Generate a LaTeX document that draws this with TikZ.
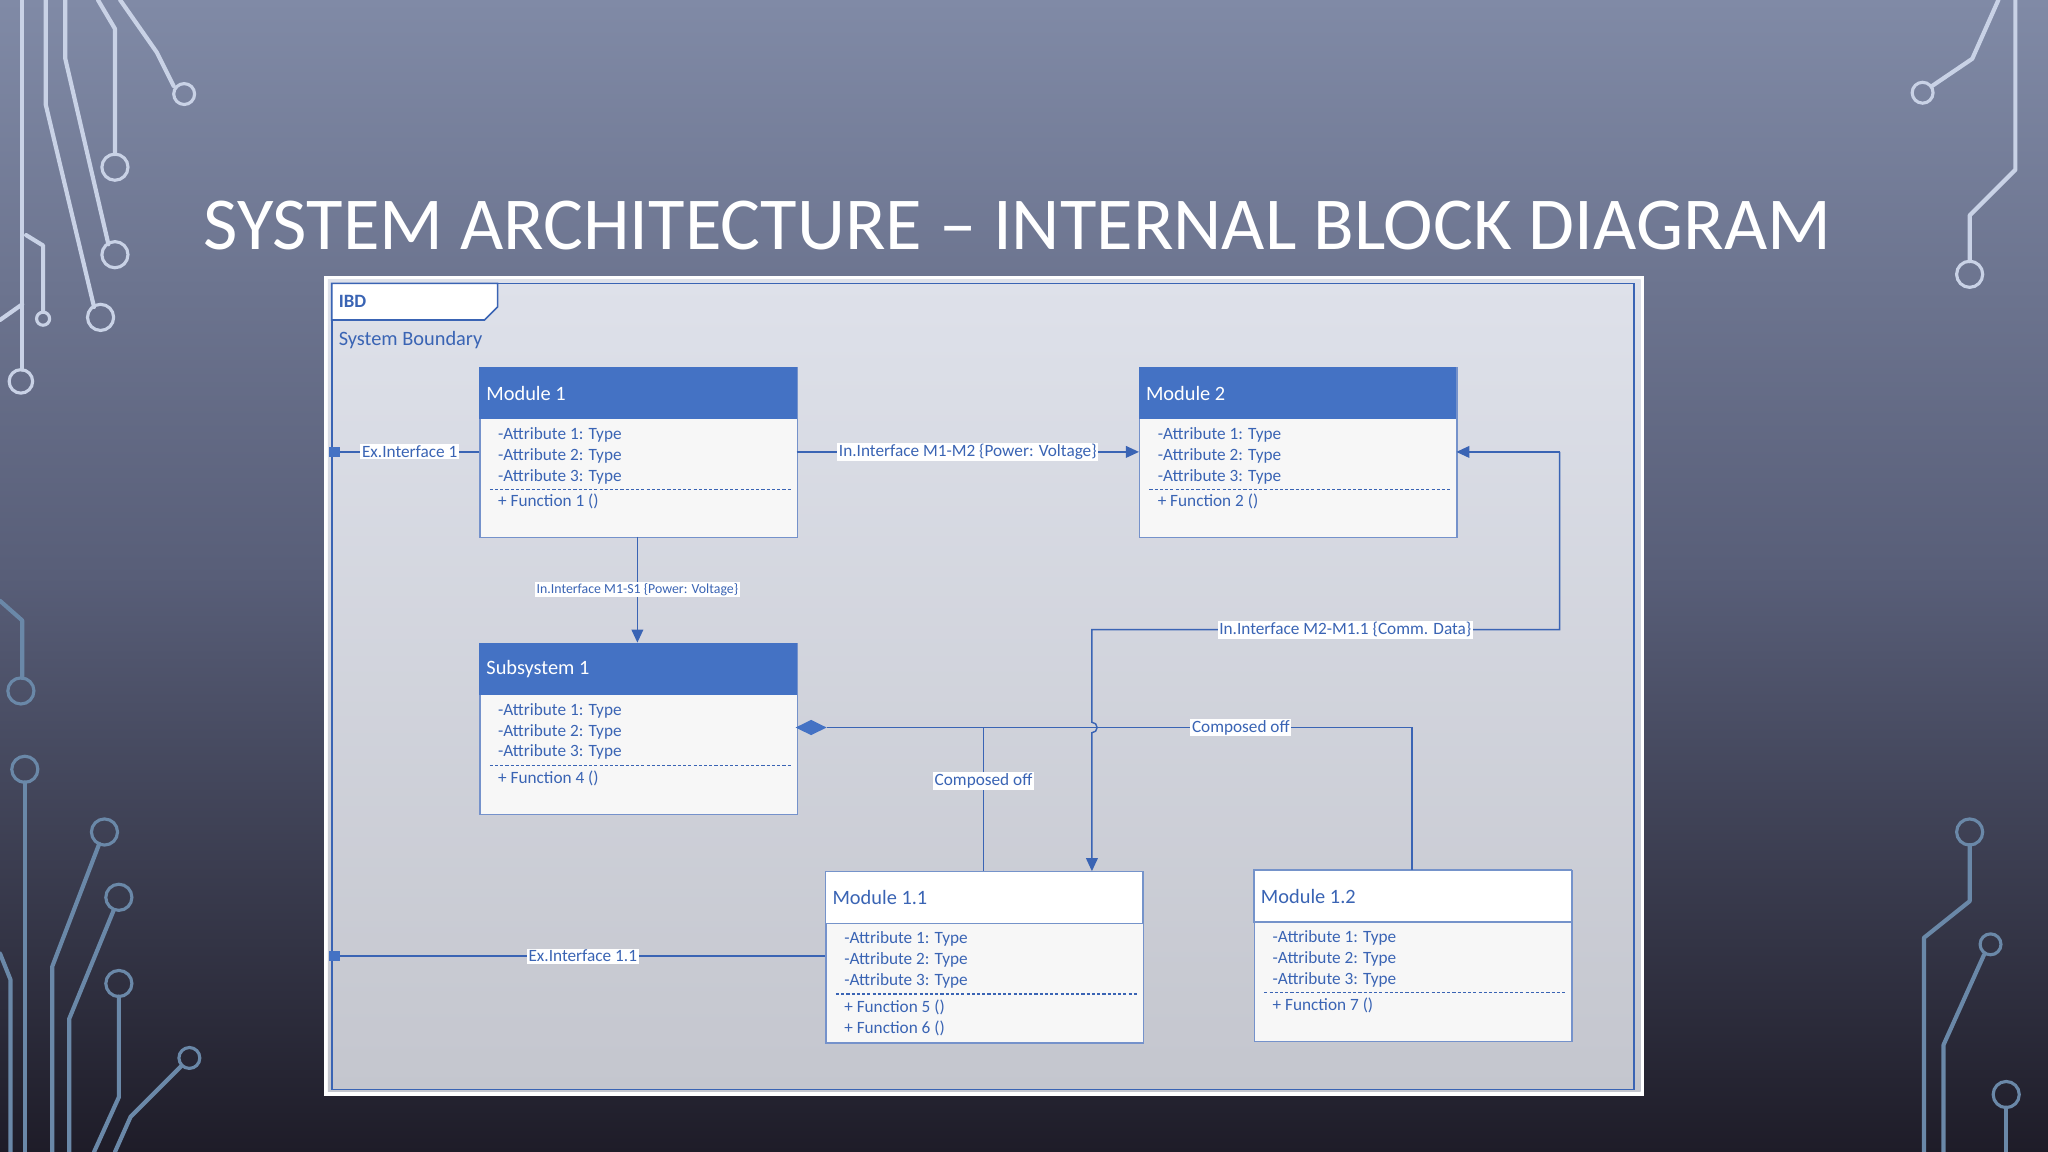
\documentclass[tikz,border=0pt]{standalone}
\usepackage{fontspec}
\setmainfont{Carlito}
\usetikzlibrary{arrows.meta,shapes.geometric}
\definecolor{hdr}{HTML}{4472C4}
\definecolor{bl}{HTML}{3A64B4}
\definecolor{dkA}{HTML}{C9D2E6}
\definecolor{dkB}{HTML}{6A88A8}
\begin{document}
\begin{tikzpicture}[x=0.5pt,y=-0.5pt,
  deco/.style={line width=1.6pt,line cap=round,line join=round},
  ring/.style={line width=1.2pt},
  conn/.style={draw=bl,line width=0.55pt},
  arr/.style={conn,-{Triangle[length=5pt,width=4.5pt]}},
  lab/.style={fill=white,inner sep=0.6pt,font=\fontsize{6.6}{7.5}\selectfont,text=bl},
  slab/.style={lab,font=\fontsize{5.3}{6}\selectfont},
  attr/.style={anchor=west,inner sep=0pt,font=\fontsize{6.6}{7.5}\selectfont,text=bl},
  ttl/.style={anchor=west,inner sep=0pt,font=\fontsize{7.8}{9}\selectfont},
  body/.style={draw=bl!70,fill=gray!6,line width=0.5pt},
  port/.style={fill=hdr,draw=none,minimum size=4pt,inner sep=0pt}]
\useasboundingbox (0,0) rectangle (1568,882);
\shade[top color={rgb,255:red,128;green,138;blue,166},bottom color={rgb,255:red,30;green,28;blue,40},middle color={rgb,255:red,88;green,94;blue,120}] (0,0) rectangle (1568,882);
% decorations left top
\begin{scope}[draw=dkA]
\draw[deco] (17,0) -- (17,283); \draw[ring] (16,292) circle (9);
\draw[deco] (35,0) -- (35,80) -- (72,235); \draw[ring] (77,243) circle (10);
\draw[deco] (50,0) -- (50,45) -- (83,187); \draw[ring] (88,195) circle (10);
\draw[deco] (75,0) -- (88,22) -- (88,118); \draw[ring] (88,128) circle (10);
\draw[deco] (92,0) -- (120,40) -- (133,66); \draw[ring] (141,72) circle (8);
\draw[deco] (20,180) -- (33,188) -- (33,238); \draw[ring] (33,244) circle (5);
\draw[deco] (0,245) -- (17,233);
% right top
\draw[deco] (1530,0) -- (1510,45) -- (1479,66); \draw[ring] (1472,71) circle (8);
\draw[deco] (1543,0) -- (1543,130) -- (1508,165) -- (1508,200); \draw[ring] (1508,210) circle (10);
\end{scope}
\begin{scope}[draw=dkB]
\draw[deco] (0,460) -- (17,475) -- (17,519); \draw[ring] (16,529) circle (10);
\draw[deco] (19,599) -- (19,882); \draw[ring] (19,589) circle (10);
\draw[deco] (76,646) -- (40,740) -- (40,882); \draw[ring] (80,637) circle (10);
\draw[deco] (87,697) -- (53,780) -- (53,882); \draw[ring] (91,687) circle (10);
\draw[deco] (91,763) -- (91,840) -- (72,882); \draw[ring] (91,753) circle (10);
\draw[deco] (139,816) -- (100,855) -- (88,882); \draw[ring] (145,810) circle (8);
\draw[deco] (0,730) -- (8,750) -- (8,882);
\draw[deco] (1508,647) -- (1508,690) -- (1473,718) -- (1473,882); \draw[ring] (1508,637) circle (10);
\draw[deco] (1519,731) -- (1488,800) -- (1488,882); \draw[ring] (1524,723) circle (8);
\draw[deco] (1536,848) -- (1536,882); \draw[ring] (1536,838) circle (10);
\end{scope}
% title
\node[text=white,font=\fontsize{28.6}{32}\selectfont] (title) at (779,173) {SYSTEM ARCHITECTURE – INTERNAL BLOCK DIAGRAM};
% panel
\fill[white] (248,211) rectangle (1259,839);
\shade[top color={rgb,255:red,222;green,225;blue,234},bottom color={rgb,255:red,196;green,198;blue,206}] (251,214) rectangle (1256,836);
\draw[bl,line width=0.6pt] (254,217) rectangle (1251,834);
\draw[bl,fill=white,line width=0.6pt] (254,217) -- (381,217) -- (381,235) -- (371,245) -- (254,245) -- cycle;
\node[anchor=west,text=bl,font=\bfseries\fontsize{7.2}{8}\selectfont,inner sep=0pt] (ibd) at (259,231) {IBD};
\node[anchor=west,text=bl,font=\fontsize{7.8}{9}\selectfont,inner sep=0pt] (sb) at (259,260) {System Boundary};
% Blocks
\newcommand{\blk}[8]{%
  \node[body,minimum width=121.5pt,minimum height={(#5-#3)*0.5pt},anchor=north west,inner sep=0pt] (#1) at (#2,#3) {};
  \ifnum#7=1
    \fill[hdr] (#2,#3) rectangle ++(243,#4-#3);
    \node[ttl,text=white] (#1t) at (#2+5,#3/2+#4/2) {#6};
  \else
    \draw[bl!70,fill=white,line width=0.5pt] (#2,#3) rectangle ++(243,#4-#3);
    \node[ttl,text=bl] (#1t) at (#2+5,#3/2+#4/2) {#6};
  \fi
  \node[attr] (#1a1) at (#2+14,#4+12) {-Attribute 1: Type};
  \node[attr] (#1a2) at (#2+14,#4+28) {-Attribute 2: Type};
  \node[attr] (#1a3) at (#2+14,#4+44) {-Attribute 3: Type};
  \draw[bl,dash pattern=on 1.2pt off 0.8pt,line width=0.5pt] (#2+8,#4+54) -- (#2+239,#4+54);
  #8}
\blk{m1}{367}{281}{321}{411}{Module 1}{1}{\node[attr] (m1f) at (381,384) {+ Function 1 ()};}
\blk{m2}{872}{281}{321}{411}{Module 2}{1}{\node[attr] (m2f) at (886,384) {+ Function 2 ()};}
\blk{s1}{367}{492}{532}{623}{Subsystem 1}{1}{\node[attr] (s1f) at (381,596) {+ Function 4 ()};}
\blk{m11}{632}{667}{707}{798}{Module 1.1}{0}{\node[attr] (m11f) at (646,771) {+ Function 5 ()};\node[attr] (m11g) at (646,787) {+ Function 6 ()};}
\blk{m12}{960}{666}{706}{797}{Module 1.2}{0}{\node[attr] (m12f) at (974,770) {+ Function 7 ()};}
% ports
\node[port] (p1) at (256,346) {};
\node[port] (p2) at (256,732) {};
\coordinate (m1w) at (367,346);
\coordinate (m1e) at (610,346);
\coordinate (m2w) at (872,346);
\coordinate (m2e) at (1115,346);
\coordinate (m11w) at (632,732);
% connectors
\draw[conn] (p1) -- (m1w) node[lab,pos=0.5] (l1) {Ex.Interface 1};
\draw[arr] (m1e) -- (m2w) node[lab,pos=0.5] (l2) {In.Interface M1-M2 \{Power: Voltage\}};
\draw[arr] (488,411) -- (488,492) node[slab,pos=0.5] (l3) {In.Interface M1-S1 \{Power: Voltage\}};
\draw[conn] (p2) -- (m11w) node[lab,pos=0.5] (l4) {Ex.Interface 1.1};
\coordinate (r1) at (1194,346);
\coordinate (r2) at (1194,482);
\coordinate (r3) at (836,482);
\draw[arr] (r1) -- (m2e);
\draw[arr] (r1) -- (r2) -- (r3) -- (836,553) arc (-90:90:4) -- (836,667);
\node[lab] (l5) at (1030,482) {In.Interface M2-M1.1 \{Comm. Data\}};
\node[diamond,fill=hdr,minimum width=12pt,minimum height=6pt,inner sep=0pt] (dia) at (621,557) {};
\draw[conn] (dia.east) -- (1081,557) -- (1081,666);
\draw[conn] (753,557) -- (753,667);
\node[lab] (l6) at (950,557) {Composed off};
\node[lab] (l7) at (753,598) {Composed off};
\end{tikzpicture}
\end{document}
